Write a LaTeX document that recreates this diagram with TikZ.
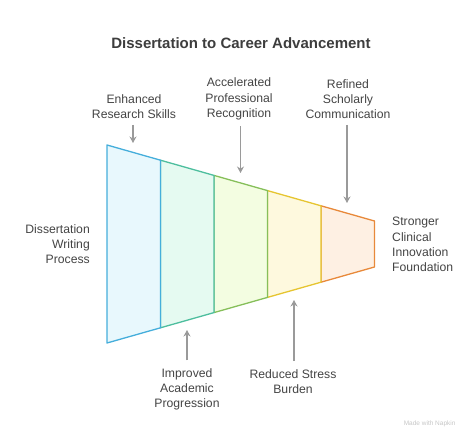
\documentclass[tikz,border=0pt]{standalone}
\usepackage{fontspec}
\setmainfont{Liberation Sans}
\usetikzlibrary{arrows.meta}

\definecolor{secAline}{HTML}{45AEDB}
\definecolor{secAfill}{HTML}{E8F8FD}
\definecolor{secBline}{HTML}{4DBE9E}
\definecolor{secBfill}{HTML}{E5FAF1}
\definecolor{secCline}{HTML}{86BF5A}
\definecolor{secCfill}{HTML}{F3FDE1}
\definecolor{secDline}{HTML}{E6C530}
\definecolor{secDfill}{HTML}{FEF9DE}
\definecolor{secEline}{HTML}{E8893A}
\definecolor{secEfill}{HTML}{FEF0E3}
\definecolor{textgray}{HTML}{444444}
\definecolor{arrowgray}{HTML}{9A9A9A}

\begin{document}
\begin{tikzpicture}[%
    x=1pt, y=-1pt,
    >={Stealth[length=6.5pt,width=7pt]},
    label/.style={text=textgray, align=center, inner sep=0pt,
      font=\fontsize{12.2}{15.2}\selectfont},
    pointer/.style={->, arrowgray, line width=1.2pt},
  ]
    \useasboundingbox (0,0) rectangle (474,443);

    % funnel sections, drawn right to left
    \foreach \i/\sec in {4/secE,3/secD,2/secC,1/secB,0/secA} {
      \draw[\sec line, fill=\sec fill, line width=1.3pt, line join=round]
        ({107+\i*53.5},{145+\i*15.2}) -- ({160.5+\i*53.5},{160.2+\i*15.2})
        -- ({160.5+\i*53.5},{327.8-\i*15.2}) -- ({107+\i*53.5},{343-\i*15.2})
        -- cycle;
    }

    \node[font=\bfseries\fontsize{15}{18}\selectfont, text=textgray!90!black]
      (title) at (241,43) {Dissertation to Career Advancement};

    \node[label, anchor=east, align=right] (start) at (90,244)
      {Dissertation\\Writing\\Process};
    \node[label, anchor=west, align=left] (goal) at (392,244.5)
      {Stronger\\Clinical\\Innovation\\Foundation};

    \node[label] (research) at (134,106.5) {Enhanced\\Research Skills};
    \node[label] (recog)    at (239,99)    {Accelerated\\Professional\\Recognition};
    \node[label] (scholar)  at (348,99)    {Refined\\Scholarly\\Communication};
    \node[label] (academic) at (187,389.5) {Improved\\Academic\\Progression};
    \node[label] (stress)   at (293,381.5) {Reduced Stress\\Burden};

    \coordinate (researchTip) at (133,143);
    \coordinate (recogTip)    at (240.5,173);
    \coordinate (scholarTip)  at (347,203);
    \coordinate (academicTip) at (187,330);
    \coordinate (stressTip)   at (294,300);

    \draw[pointer] (research.south -| researchTip) ++(0,6) -- (researchTip);
    \draw[pointer] (recog.south -| recogTip) ++(0,6) -- (recogTip);
    \draw[pointer] (scholar.south -| scholarTip) ++(0,6) -- (scholarTip);
    \draw[pointer] (academic.north -| academicTip) ++(0,-8) -- (academicTip);
    \draw[pointer] (stress.north -| stressTip) ++(0,-8) -- (stressTip);

    \node[text=gray!45, font=\fontsize{6.5}{8}\selectfont, anchor=east]
      (credit) at (459,424) {Made with Napkin};
  \end{tikzpicture}
\end{document}
